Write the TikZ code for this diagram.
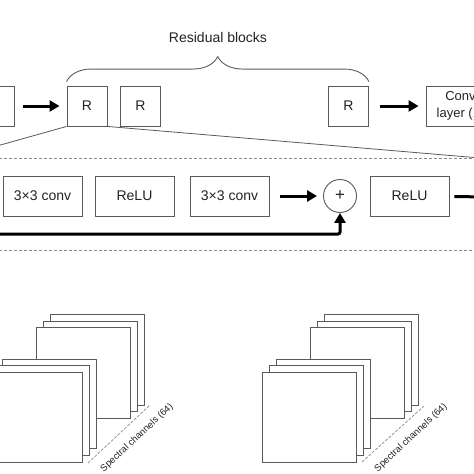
\documentclass[tikz,border=0pt]{standalone}
\usepackage{fontspec}
\setmainfont{Liberation Sans}
\usepackage{tikz}
\usetikzlibrary{arrows.meta,shapes,decorations.pathreplacing}
\definecolor{boxgray}{HTML}{5A5A5A}
\definecolor{textgray}{HTML}{222222}
\definecolor{dashgray}{HTML}{8A8A8A}
\tikzstyle{block} = [rectangle, minimum width=40pt, minimum height=40pt, inner sep=0pt, draw=boxgray, line width=0.9pt, text=textgray, font=\fontsize{14}{16}\selectfont]
\tikzstyle{layer} = [rectangle, minimum width=79pt, minimum height=40pt, inner sep=0pt, align=center, draw=boxgray, line width=0.9pt, text=textgray, font=\fontsize{14}{17}\selectfont]
\tikzstyle{sumnode} = [circle, minimum size=33pt, inner sep=0pt, draw=boxgray, line width=0.9pt, text=textgray, font=\fontsize{17}{17}\selectfont]
\tikzstyle{arrow} = [line width=3pt, -{Triangle[length=10pt,width=11pt]}, shorten <=9pt, shorten >=7pt]
\tikzstyle{frame} = [draw=dashgray, line width=0.8pt, dash pattern=on 3pt off 2pt]
\tikzstyle{sheet} = [draw=boxgray, line width=0.9pt, fill=white]
\tikzstyle{chlabel} = [text=textgray, rotate=43, font=\fontsize{9.5}{10}\selectfont]

\begin{document}
\begin{tikzpicture}[x=1pt,y=-1pt,node distance=50pt]
\useasboundingbox (0,0) rectangle (474,474);
\clip (0,0) rectangle (474,474);

% main chain
\node (r1)   [block] at (87,106) {R};
\node (r2)   [block, right of=r1, xshift=3.5pt] {R};
\node (r3)   [block, right of=r2, xshift=158pt] {R};
\node (inp)  [layer, left of=r1, xshift=-62pt, minimum width=78pt] {};
\node (conv) [layer, right of=r3, xshift=62pt, minimum width=69pt, font=\fontsize{13}{17}\selectfont] {Conv\\layer (1)};
\node (reslabel) [text=textgray, font=\fontsize{14}{16}\selectfont] at (218,37) {Residual blocks};

\draw [arrow] (inp) -- (r1);
\draw [arrow, shorten <=11pt] (r3) -- (conv);
\draw [boxgray, line width=0.9pt, decorate, decoration={brace, amplitude=25pt}]
  ([yshift=4pt]r1.north west) -- ([yshift=4pt]r3.north east);

% zoom into one block
\coordinate (dtl) at (-46,158);
\coordinate (dtr) at (480,158);
\coordinate (dbl) at (-46,250);
\coordinate (dbr) at (480,250);
\draw [boxgray, line width=0.8pt] (r1.south west) -- (dtl);
\draw [boxgray, line width=0.8pt] (r1.south east) -- (dtr);
\draw [frame] (dtl) -- (dtr);
\draw [frame] (dbl) -- (dbr);

\node (c1)    [layer] at (42.5,196) {3×3 conv};
\node (relu1) [layer, right of=c1, xshift=42pt] {ReLU};
\node (c2)    [layer, right of=relu1, xshift=45pt] {3×3 conv};
\node (plus)  [sumnode, right of=c2, xshift=60.5pt] {+};
\node (relu2) [layer, right of=plus, xshift=19.5pt] {ReLU};
\coordinate (out)  at (490,197);
\coordinate (skip) at (-10,234);

\draw [arrow, shorten <=11pt, shorten >=6pt] (c2) -- (plus);
\draw [arrow, shorten <=5pt, shorten >=0pt] (relu2) -- (out);
\draw [arrow, shorten <=0pt, shorten >=0pt, rounded corners=2pt] (skip) -| (plus.south);

% feature maps
\foreach \dx in {0,274} {
  \foreach \x/\y/\h in {50/314/91, 43/321/90, 36/327/91, 2/359/89, -5/365/90, -12/372/90}
    \draw [sheet] (\x+\dx,\y) rectangle ++(94,\h);
}
\coordinate (sa) at (88,463);
\coordinate (sb) at (150,405);
\coordinate (sc) at (362,462);
\coordinate (sd) at (424,406);
\draw [dashgray, line width=0.7pt, dash pattern=on 3pt off 1.5pt] (sa) -- (sb);
\draw [dashgray, line width=0.7pt, dash pattern=on 3pt off 1.5pt] (sc) -- (sd);
\node (chl) [chlabel] at (137,438) {Spectral channels (64)};
\node (chr) [chlabel] at (411,438) {Spectral channels (64)};
\end{tikzpicture}
\end{document}
